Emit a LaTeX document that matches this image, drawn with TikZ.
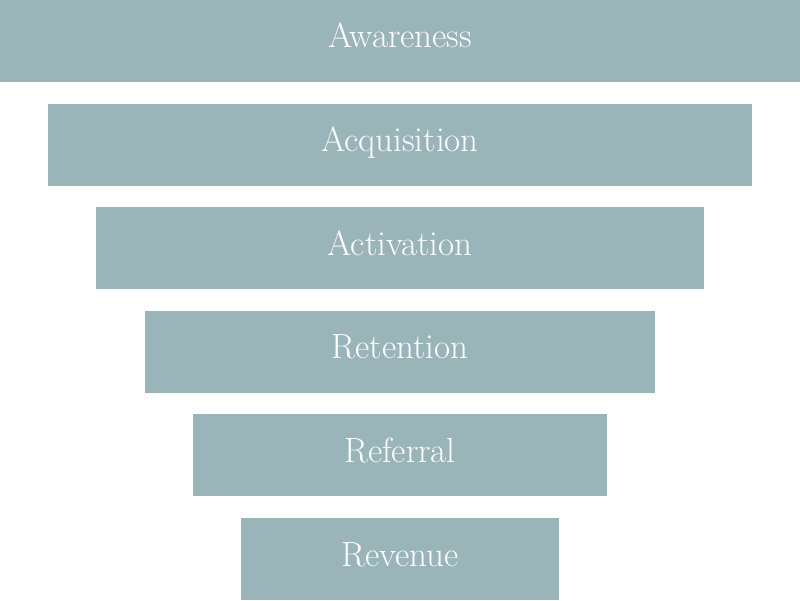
\documentclass[tikz,border=0pt]{standalone}
\definecolor{funnelgray}{HTML}{9AB5BA}
\begin{document}
\begin{tikzpicture}[x=1pt,y=1pt]
\tikzstyle{every node}=[font=\fontsize{35}{42}\selectfont]
\tikzstyle{stagebox}=[fill=funnelgray, text=white, inner sep=0pt, minimum height=82pt, text height=24pt, text depth=10pt]

% fix the page size
\useasboundingbox (0,0) rectangle (800,-601);

% funnel stages, each one narrower than the last
\foreach \i/\label in {0/Awareness,1/Acquisition,2/Activation,3/Retention,4/Referral,5/Revenue}
	\node (stage\i) [stagebox, minimum width={800-96.4*\i}] at (400,{-41-103.6*\i}) {\label};

\end{tikzpicture}
\end{document}
